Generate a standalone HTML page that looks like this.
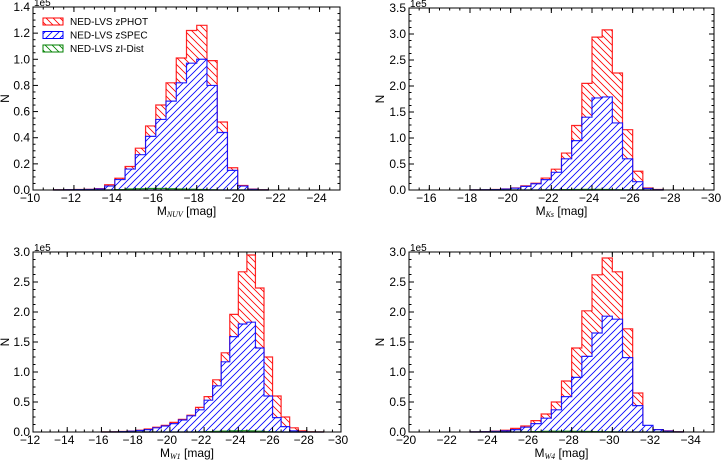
<!DOCTYPE html>
<html><head><meta charset="utf-8">
<style>
html,body{margin:0;padding:0;background:#fff;}
svg{display:block;font-family:"Liberation Sans","DejaVu Sans",sans-serif;}
</style></head>
<body>
<svg id="fig" width="725" height="460" viewBox="0 0 725 460" xmlns="http://www.w3.org/2000/svg">
<defs>
<pattern id="hatchRed" patternUnits="userSpaceOnUse" width="7" height="7">
<rect width="7" height="7" fill="#fff"/>
<path d="M-1,-1 L8,8 M-1,6 L1,8 M6,-1 L8,1" stroke="#ff0000" stroke-width="0.8"/>
</pattern>
<pattern id="hatchBlue" patternUnits="userSpaceOnUse" width="7" height="7">
<rect width="7" height="7" fill="#fff"/>
<path d="M-1,8 L8,-1 M-1,1 L1,-1 M6,8 L8,6" stroke="#0000ff" stroke-width="0.8"/>
</pattern>
<pattern id="hatchGreen" patternUnits="userSpaceOnUse" width="7" height="7">
<path d="M-1,-1 L8,8 M-1,6 L1,8 M6,-1 L8,1" stroke="#008000" stroke-width="0.8"/>
</pattern>
</defs>
</svg>
<script>
// bin width 0.5 mag; starts are |M| of first bin edge
const binWidth = 0.5;
// Panel 1: NUV
const nuvStart = 11.0;
const nuvPhot = [0.002,0.003,0.004,0.005,0.01,0.04,0.09,0.18,0.32,0.49,0.65,0.82,1.01,1.22,1.26,0.99,0.52,0.17,0.035,0.007,0.002];
const nuvSpec = [0.001,0.002,0.003,0.004,0.008,0.03,0.08,0.16,0.27,0.41,0.54,0.68,0.82,0.97,1.00,0.80,0.44,0.15,0.03,0.005,0.001];
const nuvDist = [0,0,0,0,0,0,0.003,0.008,0.01,0.012,0.012,0.01,0.008,0.006,0.004,0.002,0,0,0,0,0];
// Panel 2: Ks
const ksStart = 18.0;
const ksPhot = [0.003,0.006,0.01,0.02,0.04,0.08,0.13,0.23,0.40,0.71,1.24,2.05,2.94,3.08,2.25,1.16,0.36,0.04,0.01];
const ksSpec = [0.002,0.005,0.008,0.018,0.035,0.07,0.12,0.20,0.34,0.60,0.95,1.40,1.77,1.79,1.29,0.60,0.16,0.03,0.005];
const ksDist = [0,0,0,0,0,0,0,0.003,0.005,0.008,0.01,0.012,0.012,0.01,0.006,0.003,0,0,0];
// Panel 3: W1
const w1Start = 16.0;
const w1Phot = [0.002,0.004,0.008,0.015,0.03,0.05,0.08,0.11,0.16,0.21,0.28,0.41,0.59,0.87,1.32,1.96,2.67,2.95,2.40,1.25,0.60,0.25,0.07,0.02,0.005,0.002];
const w1Spec = [0.001,0.003,0.006,0.012,0.025,0.04,0.07,0.10,0.14,0.20,0.27,0.37,0.53,0.77,1.17,1.59,1.80,1.83,1.40,0.60,0.24,0.09,0.02,0.005,0.001,0];
const w1Dist = [0,0,0,0,0,0,0,0,0,0,0,0.003,0.006,0.01,0.015,0.02,0.022,0.02,0.012,0.005,0.002,0,0,0,0,0];
// Panel 4: W4
const w4Start = 23.0;
const w4Phot = [0.003,0.007,0.015,0.03,0.06,0.10,0.19,0.30,0.50,0.85,1.40,2.02,2.62,2.90,2.67,1.72,0.65,0.09,0.04,0.02,0.005];
const w4Spec = [0.002,0.005,0.01,0.02,0.04,0.08,0.14,0.23,0.37,0.59,0.91,1.26,1.65,1.93,1.88,1.24,0.44,0.11,0.04,0.015,0.003];
const w4Dist = [0,0,0,0,0,0.003,0.006,0.01,0.012,0.012,0.01,0.008,0.006,0.004,0.002,0,0,0,0,0,0];
// axis ticks
const nuvXTicks = [10,12,14,16,18,20,22,24];
const ksXTicks = [16,18,20,22,24,26,28,30];
const w1XTicks = [12,14,16,18,20,22,24,26,28,30];
const w4XTicks = [20,22,24,26,28,30,32,34];
const yTicks14 = ["0.0","0.2","0.4","0.6","0.8","1.0","1.2","1.4"];
const yTicks35 = ["0.0","0.5","1.0","1.5","2.0","2.5","3.0","3.5"];
const yTicks30 = ["0.0","0.5","1.0","1.5","2.0","2.5","3.0"];

const NS = "http://www.w3.org/2000/svg";
const svg = document.getElementById('fig');
function mk(tag, attrs, parent){
  const e = document.createElementNS(NS, tag);
  for (const k in attrs) e.setAttribute(k, attrs[k]);
  (parent||svg).appendChild(e);
  return e;
}

function panel(cfg){
  const g = mk('g', {});
  
  
  const L=cfg.L,R=cfg.R,T=cfg.T,B=cfg.B;
  const xs = v => L + (v - cfg.xmin) / (cfg.xmax - cfg.xmin) * (R - L);
  const ys = v => B - v / cfg.ymax * (B - T);
  const series = [
    {data: cfg.phot, fill: 'url(#hatchRed)', stroke: '#ff0000', nm: 'zphot-histogram'},
    {data: cfg.spec, fill: 'url(#hatchBlue)', stroke: '#0000ff', nm: 'zspec-histogram'},
    {data: cfg.dist, fill: 'url(#hatchGreen)', stroke: '#008000', nm: 'zidist-histogram'}
  ];
  series.forEach(s => {
    let d = 'M' + xs(cfg.start) + ',' + ys(0);
    s.data.forEach((v, i) => {
      const x0 = xs(cfg.start + i*binWidth), x1 = xs(cfg.start + (i+1)*binWidth);
      d += ' L' + x0 + ',' + ys(v) + ' L' + x1 + ',' + ys(v);
    });
    d += ' L' + xs(cfg.start + s.data.length*binWidth) + ',' + ys(0) + ' Z';
    const p = mk('path', {d: d, fill: s.fill, stroke: s.stroke, 'stroke-width': 1.2, 'stroke-opacity': 0.85}, g);
    
    
  });
  const fr = mk('rect', {x: L, y: T, width: R-L, height: B-T, fill: 'none', stroke: '#000', 'stroke-width': 1}, g);
  
  
  const step = cfg.xt[1] - cfg.xt[0];
  cfg.xt.forEach(v => {
    const x = xs(v);
    mk('line', {x1: x, y1: B, x2: x, y2: B-5, stroke: '#000'}, g);
    mk('line', {x1: x, y1: T, x2: x, y2: T+5, stroke: '#000'}, g);
    const t = mk('text', {x: x - 3, y: B + 12, 'font-size': 12, 'text-anchor': 'middle', fill: '#000'}, g);
    t.textContent = v === 0 ? '0' : '\u2212' + v;
    
    
  });
  for (let v = cfg.xmin; v <= cfg.xmax + 1e-9; v += step/4) {
    const x = xs(v);
    mk('line', {x1: x, y1: B, x2: x, y2: B-2.5, stroke: '#000'}, g);
    mk('line', {x1: x, y1: T, x2: x, y2: T+2.5, stroke: '#000'}, g);
  }
  const n = cfg.yt.length - 1;
  cfg.yt.forEach((lab, i) => {
    const y = B - i/n*(B-T);
    mk('line', {x1: L, y1: y, x2: L+5, y2: y, stroke: '#000'}, g);
    mk('line', {x1: R, y1: y, x2: R-5, y2: y, stroke: '#000'}, g);
    const t = mk('text', {x: L - 3, y: y + 4, 'font-size': 12, 'text-anchor': 'end', fill: '#000'}, g);
    t.textContent = lab;
    
    
    if (i < n) {
      for (let k = 1; k < 4; k++) {
        const ym = y - k/4*(B-T)/n;
        mk('line', {x1: L, y1: ym, x2: L+2.5, y2: ym, stroke: '#000'}, g);
        mk('line', {x1: R, y1: ym, x2: R-2.5, y2: ym, stroke: '#000'}, g);
      }
    }
  });
  const ex = mk('text', {x: L + 1, y: T - 1, 'font-size': 10, fill: '#000'}, g);
  ex.textContent = '1e5';
  
  
  const yl = mk('text', {x: 0, y: 0, 'font-size': 12, 'text-anchor': 'middle', fill: '#000',
    transform: 'translate(' + (cfg.ylx) + ',' + ((T+B)/2) + ') rotate(-90)'}, g);
  yl.textContent = 'N';
  
  
  const xl = mk('text', {x: (L+R)/2, y: B + 25, 'font-size': 12, 'text-anchor': 'middle', fill: '#000'}, g);
  
  
  xl.appendChild(document.createTextNode('M'));
  const sub = mk('tspan', {'font-size': 8, 'font-style': 'italic', 'font-family': '"Liberation Serif",serif', dy: 2}, xl);
  sub.textContent = cfg.sub;
  const rest = mk('tspan', {dy: -2}, xl);
  rest.textContent = ' [mag]';
}

panel({name:'panel-nuv', L:33, R:340, T:7, B:190, xmin:10, xmax:25, ymax:1.4, start:nuvStart,
  phot:nuvPhot, spec:nuvSpec, dist:nuvDist, xt:nuvXTicks, yt:yTicks14, sub:'NUV', ylx:9});
panel({name:'panel-ks', L:409, R:714, T:8, B:190, xmin:15, xmax:30, ymax:3.5, start:ksStart,
  phot:ksPhot, spec:ksSpec, dist:ksDist, xt:ksXTicks, yt:yTicks35, sub:'Ks', ylx:384});
panel({name:'panel-w1', L:33, R:341, T:252, B:432, xmin:12, xmax:30, ymax:3.0, start:w1Start,
  phot:w1Phot, spec:w1Spec, dist:w1Dist, xt:w1XTicks, yt:yTicks30, sub:'W1', ylx:9});
panel({name:'panel-w4', L:409, R:714, T:252, B:432, xmin:20, xmax:35, ymax:3.0, start:w4Start,
  phot:w4Phot, spec:w4Spec, dist:w4Dist, xt:w4XTicks, yt:yTicks30, sub:'W4', ylx:384});

const leg = mk('g', {});


const legItems = [['url(#hatchRed)','#ff0000','NED-LVS zPHOT'],['url(#hatchBlue)','#0000ff','NED-LVS zSPEC'],['url(#hatchGreen)','#008000','NED-LVS zI-Dist']];
legItems.forEach((it, i) => {
  const y = 18 + i*13.5;
  const r = mk('rect', {x: 43, y: y, width: 20, height: 7, fill: it[0], stroke: it[1], 'stroke-width': 1}, leg);
  
  
  const t = mk('text', {x: 70, y: y + 7, 'font-size': 10, fill: '#000'}, leg);
  t.textContent = it[2];
  
  
});
</script>
</body></html>
